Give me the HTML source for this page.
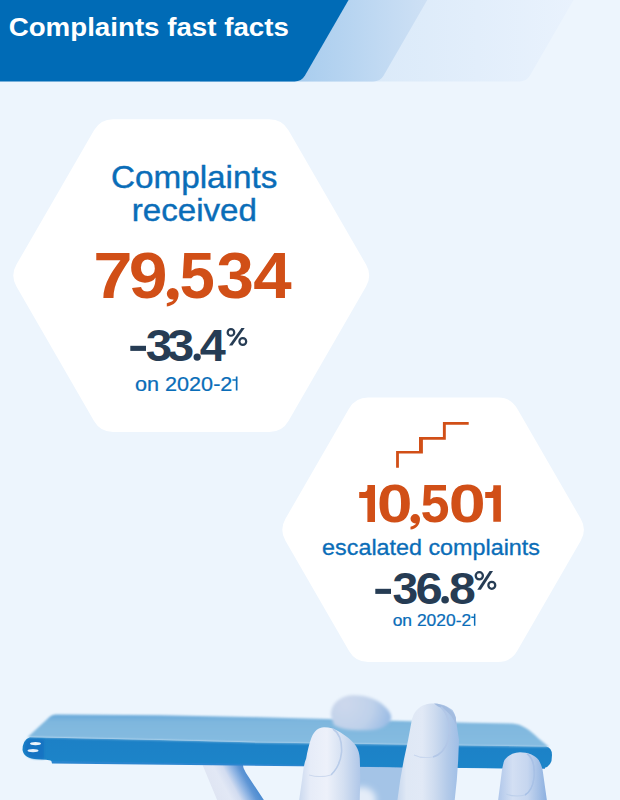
<!DOCTYPE html>
<html>
<head>
<meta charset="utf-8">
<style>
html,body{margin:0;padding:0;}
body{width:620px;height:800px;overflow:hidden;background:#edf5fd;position:relative;}
svg{position:absolute;left:0;top:0;}
text{font-family:"Liberation Sans",sans-serif;}
</style>
</head>
<body>
<svg width="620" height="800" viewBox="0 0 620 800">
<defs>
<linearGradient id="g2" gradientUnits="userSpaceOnUse" x1="300" y1="0" x2="430" y2="0">
<stop offset="0" stop-color="#a9cdee"/>
<stop offset="1" stop-color="#cfe1f5"/>
</linearGradient>
<linearGradient id="g3" gradientUnits="userSpaceOnUse" x1="380" y1="0" x2="575" y2="0">
<stop offset="0" stop-color="#dbeaf9"/>
<stop offset="1" stop-color="#e9f2fd"/>
</linearGradient>
</defs>
<path d="M300,-30 L590.87,-30 L529.96,75.50 A12,12 0 0 1 519.57,81.50 L300,81.5 Z" fill="url(#g3)"/>
<path d="M200,-30 L444.57,-30 L383.66,75.50 A12,12 0 0 1 373.27,81.50 L200,81.5 Z" fill="url(#g2)"/>
<path d="M-10,-30 L365.87,-30 L304.96,75.50 A12,12 0 0 1 294.57,81.50 L-10,81.5 Z" fill="#006bb6"/>
<defs>
<filter id="bl05" x="-10%" y="-10%" width="120%" height="120%"><feGaussianBlur stdDeviation="0.6"/></filter>
<filter id="bl1" x="-20%" y="-20%" width="140%" height="140%"><feGaussianBlur stdDeviation="1"/></filter>
<filter id="bl15" x="-10%" y="-30%" width="120%" height="160%"><feGaussianBlur stdDeviation="1.5"/></filter>
<filter id="bl2" x="-30%" y="-30%" width="160%" height="160%"><feGaussianBlur stdDeviation="2"/></filter>
<filter id="bl3" x="-50%" y="-50%" width="200%" height="200%"><feGaussianBlur stdDeviation="3"/></filter>
<linearGradient id="pTop" x1="0" y1="0" x2="0" y2="1">
<stop offset="0" stop-color="#68a8d9"/>
<stop offset="0.22" stop-color="#7fb7de"/>
<stop offset="1" stop-color="#86bce1"/>
</linearGradient>
<linearGradient id="pSide" x1="0" y1="0" x2="0" y2="1">
<stop offset="0" stop-color="#1a80c6"/>
<stop offset="1" stop-color="#1e85c9"/>
</linearGradient>
<linearGradient id="thumb" gradientUnits="userSpaceOnUse" x1="-222" y1="0" x2="-176" y2="0" gradientTransform="skewX(28.8)">
<stop offset="0" stop-color="#dfe5f3"/>
<stop offset="0.3" stop-color="#e2e8f5"/>
<stop offset="0.5" stop-color="#d2dcf0"/>
<stop offset="0.68" stop-color="#95b8e5"/>
<stop offset="0.85" stop-color="#5f96d5"/>
<stop offset="1" stop-color="#4a8ad0"/>
</linearGradient>
<radialGradient id="blob" gradientUnits="userSpaceOnUse" cx="345" cy="704" r="50">
<stop offset="0" stop-color="#cdd8ec"/>
<stop offset="0.55" stop-color="#bfd1ea"/>
<stop offset="1" stop-color="#95b9e4"/>
</radialGradient>
<linearGradient id="fingerL" gradientUnits="userSpaceOnUse" x1="299" y1="0" x2="361" y2="0">
<stop offset="0" stop-color="#cbd9ef"/>
<stop offset="0.18" stop-color="#e6ecf8"/>
<stop offset="0.45" stop-color="#edf1fa"/>
<stop offset="0.72" stop-color="#d3dff1"/>
<stop offset="1" stop-color="#aec6e8"/>
</linearGradient>
<linearGradient id="fingerM" gradientUnits="userSpaceOnUse" x1="397" y1="0" x2="460" y2="0">
<stop offset="0" stop-color="#c8d8ee"/>
<stop offset="0.15" stop-color="#dfe8f5"/>
<stop offset="0.4" stop-color="#e1e9f6"/>
<stop offset="0.6" stop-color="#cddbef"/>
<stop offset="0.8" stop-color="#b3cae9"/>
<stop offset="1" stop-color="#9dbde6"/>
</linearGradient>
<linearGradient id="fingerS" gradientUnits="userSpaceOnUse" x1="498" y1="0" x2="547" y2="0">
<stop offset="0" stop-color="#b0c7ea"/>
<stop offset="0.3" stop-color="#d3dff3"/>
<stop offset="0.6" stop-color="#c6d6ef"/>
<stop offset="1" stop-color="#8cb0e0"/>
</linearGradient>
</defs>
<!-- palm region behind, between fingers below phone -->
<path d="M352,760 L405,760 L400,801 L352,801 Z" fill="#a4c4e7"/>
<ellipse cx="362" cy="800" rx="14" ry="13" fill="#e4ecf8" filter="url(#bl3)"/>
<!-- thumb below phone -->
<path d="M200.5,760 L242,760 L243.5,768 L246,773 L264.5,801 L217.5,801 Z" fill="url(#thumb)" filter="url(#bl05)"/>
<!-- phone bottom strip -->
<path d="M50,756 L545,762 L545,768.8 L52,763.6 Z" fill="#2c85cf" filter="url(#bl05)"/>
<!-- phone side -->
<path d="M30,737.2 L160,740 L260,742.6 L546,746.6 Q552,748 552,755 L551.5,761 Q549,768.6 540,768.6 L400,767.2 L260,764 L160,762.8 L52,761 Q47,759.5 38,759.3 Q24,759 22.5,750 Q22.5,740 30,737.2 Z" fill="url(#pSide)" filter="url(#bl05)"/>
<!-- phone top face -->
<path d="M27.5,737.2 L50,716.5 Q52.5,714.6 56,714.6 L160,715.3 L260,717.2 L470,722.8 L512,723.5 C522,724 530,730 538,738 L549,747 L260,742.9 L160,740.3 Z" fill="url(#pTop)" filter="url(#bl1)"/>
<!-- left end highlights -->
<path d="M26,741.5 Q24,747 26,753.5 Q28,757.5 34,758.5 L44,759 L44,739.5 L30,739 Q27,739.5 26,741.5 Z" fill="#1673c2" filter="url(#bl1)"/>
<ellipse cx="35.5" cy="743.6" rx="5.5" ry="1.7" fill="#eef4fb" filter="url(#bl05)"/>
<ellipse cx="33" cy="750.6" rx="5.5" ry="1.7" fill="#e6eff9" filter="url(#bl05)"/>
<!-- blurred back finger -->
<path d="M331,716 C330,706 338,697 350,695.5 C362,694.5 374,698 382,704 C388,709 392,714 391,719 C389,725 382,729 372,730 C358,731 342,730 334,725 Z" fill="url(#blob)" filter="url(#bl15)"/>
<!-- left front finger -->
<path d="M299,801 L302.3,778 C303.5,768 304.5,762 306.1,758.7 C307.5,751 309,744 311.5,737.5 C314.5,730.5 318.5,727.2 324,727.2 C330,727.2 334,728.5 338,731 C345,735 352,740 356,746 C358.5,750 359.5,754 359.8,758.7 L360.3,778 L359.7,801 Z" fill="url(#fingerL)" filter="url(#bl05)"/>
<path d="M333,729 C339,733 342,742 341.6,752 C341,760 338,768 331,775" fill="none" stroke="#b9cce9" stroke-width="1.6" filter="url(#bl05)"/>
<path d="M309,775 C316,777 324,777 331,775" fill="none" stroke="#cdd9ee" stroke-width="1.2" filter="url(#bl05)"/>
<!-- middle finger -->
<path d="M397.3,801 L400.2,780 L403.8,760 L408.1,740 L411.8,720 C413.5,714 415,712 416.9,710 C421,705 427,703.4 433.5,703.4 C441,703.4 448,706 452.4,710 C455,714 456,717 456,720 L459,740 L458.2,760 L456.8,780 L454.6,801 Z" fill="url(#fingerM)" filter="url(#bl05)"/>
<path d="M434,703.6 C444,704 452,709 455.5,717 L456.5,726 C453,716 446,709 438,706.5 Z" fill="#a3bce0" filter="url(#bl05)"/>
<path d="M441,707 C450,716 451,730 448,741 C445,750 440,755 433,757" fill="none" stroke="#b2c7e7" stroke-width="1.8" filter="url(#bl05)"/>
<path d="M414,755 C420,758 427,758 433,757" fill="none" stroke="#c9d7ee" stroke-width="1.2" filter="url(#bl05)"/>
<!-- small finger -->
<path d="M498,801 L502,770 C503,765 503.5,762 504.5,760 C508,755 514,752.2 520,752.2 C528,752.2 535,755 538.7,760 C540.5,763 542,767 542.6,770 L547,801 Z" fill="url(#fingerS)" filter="url(#bl05)"/>
<path d="M527,753.5 C533,758 535,768 534,778 C533,786 530,792 525,795" fill="none" stroke="#a8c1e6" stroke-width="1.6" filter="url(#bl05)"/>
<path d="M506,794 C513,796.5 519,796.5 525,795" fill="none" stroke="#bccfeb" stroke-width="1.2" filter="url(#bl05)"/>

<path d="M366.05,264.55 A22,22 0 0 1 366.05,286.55 L288.48,420.90 A22,22 0 0 1 269.43,431.90 L113.07,431.90 A22,22 0 0 1 94.02,420.90 L16.45,286.55 A22,22 0 0 1 16.45,264.55 L94.02,130.20 A22,22 0 0 1 113.07,119.20 L269.43,119.20 A22,22 0 0 1 288.48,130.20 Z" fill="#fff"/>
<path d="M580.75,518.75 A22,22 0 0 1 580.75,540.75 L517.15,650.90 A22,22 0 0 1 498.10,661.90 L368.10,661.90 A22,22 0 0 1 349.05,650.90 L285.45,540.75 A22,22 0 0 1 285.45,518.75 L349.05,408.60 A22,22 0 0 1 368.10,397.60 L498.10,397.60 A22,22 0 0 1 517.15,408.60 Z" fill="#fff"/>
<path d="M396.1,467.7 L396.1,451.1 L419.0,451.1 L419.0,437.1 L442.9,437.1 L442.9,422.1 L468.7,422.1 L468.7,424.8 L445.8,424.8 L445.8,439.8 L422.9,439.8 L422.9,453.5 L398.9,453.5 L398.9,467.7 Z" fill="#d14f17"/>
<text transform="translate(8.66,35.80) scale(1.0663,1)" font-size="26.00" font-weight="bold" fill="#ffffff">Complaints fast facts</text>
<text transform="translate(110.91,188.40) scale(1.0737,1)" font-size="31.00" font-weight="normal" fill="#0a6db8" stroke="#0a6db8" stroke-width="0.4">Complaints</text>
<text transform="translate(131.80,220.70) scale(1.0679,1)" font-size="31.00" font-weight="normal" fill="#0a6db8" stroke="#0a6db8" stroke-width="0.4">received</text>
<text transform="translate(93.16,297.90) scale(1.0817,1.0000)" font-size="65.41" font-weight="bold" fill="#d14f17">7</text>
<text transform="translate(128.78,297.90) scale(1.0669,1.0000)" font-size="65.41" font-weight="bold" fill="#d14f17">9</text>
<path d="M166.80,293.80 A5.90,5.90 0 0 1 178.60,293.80 C178.60,301.42 173.88,305.48 166.80,306.50 L166.80,303.20 C170.93,302.06 173.58,300.78 173.58,299.52 A5.90,5.90 0 0 1 166.80,293.80 Z" fill="#d14f17"/>
<text transform="translate(179.55,297.90) scale(0.9710,1.0000)" font-size="65.41" font-weight="bold" fill="#d14f17">5</text>
<text transform="translate(216.46,297.90) scale(1.0273,1.0000)" font-size="65.41" font-weight="bold" fill="#d14f17">3</text>
<text transform="translate(253.25,297.90) scale(1.0561,1.0000)" font-size="65.41" font-weight="bold" fill="#d14f17">4</text>
<rect x="130.3" y="345.8" width="15.70" height="5.10" fill="#263c54"/>
<text transform="translate(145.71,360.70) scale(1.0710,1.0000)" font-size="44.33" font-weight="bold" fill="#263c54">3</text>
<text transform="translate(167.19,360.70) scale(1.0937,1.0000)" font-size="44.33" font-weight="bold" fill="#263c54">3</text>
<circle cx="197.15" cy="357.05" r="3.65" fill="#263c54"/>
<text transform="translate(199.79,360.70) scale(1.0570,1.0000)" font-size="44.33" font-weight="bold" fill="#263c54">4</text>
<circle cx="230.95" cy="332.45" r="3.3" fill="none" stroke="#263c54" stroke-width="2.2"/><circle cx="242.8" cy="341.45" r="3.4" fill="none" stroke="#263c54" stroke-width="2.2"/><polygon points="229.0,345.5 232.4,345.5 244.7,328.1 241.4,328.1" fill="#263c54"/>
<circle cx="479.3" cy="575.8" r="3.6" fill="none" stroke="#263c54" stroke-width="2.3"/><circle cx="491.8" cy="585.35" r="3.45" fill="none" stroke="#263c54" stroke-width="2.3"/><polygon points="477.3,589.7 480.9,589.7 493.0,571.1 489.6,571.1" fill="#263c54"/>
<text transform="translate(134.99,390.60) scale(1.0549,1)" font-size="20.50" font-weight="normal" fill="#0a6db8" stroke="#0a6db8" stroke-width="0.25">on 2020-2</text>
<path d="M235.8,376.5 L237.5,376.5 L237.5,390.6 L235.8,390.6 L235.8,380.8 L232.4,380.8 L232.4,379.2 L235.8,379.2 Z" fill="#0a6db8"/>
<text transform="translate(376.98,521.90) scale(1.1783,1.0000)" font-size="54.07" font-weight="bold" fill="#d14f17">0</text>
<path d="M410.50,518.75 A4.75,4.75 0 0 1 420.00,518.75 C420.00,525.26 416.20,528.73 410.50,529.60 L410.50,526.78 C413.82,525.80 415.96,524.72 415.96,523.36 A4.75,4.75 0 0 1 410.50,518.75 Z" fill="#d14f17"/>
<text transform="translate(420.39,521.90) scale(0.9664,1.0000)" font-size="54.07" font-weight="bold" fill="#d14f17">5</text>
<text transform="translate(448.67,521.90) scale(1.2289,1.0000)" font-size="54.07" font-weight="bold" fill="#d14f17">0</text>
<path d="M367.4,485.1 L375.0,485.1 L375.0,521.9 L367.4,521.9 L367.4,498.0 L359.2,498.0 L359.2,492.1 L364.90,492.1 Q367.4,491.60 367.4,488.10 Z" fill="#d14f17"/>
<path d="M493.3,485.2 L500.9,485.2 L500.9,521.7 L493.3,521.7 L493.3,497.9 L485.2,497.9 L485.2,492.1 L490.80,492.1 Q493.3,491.60 493.3,488.10 Z" fill="#d14f17"/>
<text transform="translate(322.11,555.40) scale(1.1013,1)" font-size="21.20" font-weight="normal" fill="#0a6db8" stroke="#0a6db8" stroke-width="0.3">escalated complaints</text>
<rect x="375.3" y="588.8" width="15.70" height="5.10" fill="#263c54"/>
<text transform="translate(392.54,603.50) scale(1.0576,1.0000)" font-size="43.75" font-weight="bold" fill="#263c54">3</text>
<text transform="translate(415.51,603.50) scale(1.1159,1.0000)" font-size="43.75" font-weight="bold" fill="#263c54">6</text>
<circle cx="445.10" cy="599.70" r="3.80" fill="#263c54"/>
<text transform="translate(449.07,603.50) scale(1.1020,1.0000)" font-size="43.75" font-weight="bold" fill="#263c54">8</text>
<text transform="translate(392.67,625.60) scale(1.0254,1)" font-size="17.00" font-weight="normal" fill="#0a6db8" stroke="#0a6db8" stroke-width="0.25">on 2020-2</text>
<path d="M473.9,613.8 L475.4,613.8 L475.4,625.7 L473.9,625.7 L473.9,617.9 L471.3,617.9 L471.3,616.5 L473.9,616.5 Z" fill="#0a6db8"/>
</svg>
</body>
</html>
